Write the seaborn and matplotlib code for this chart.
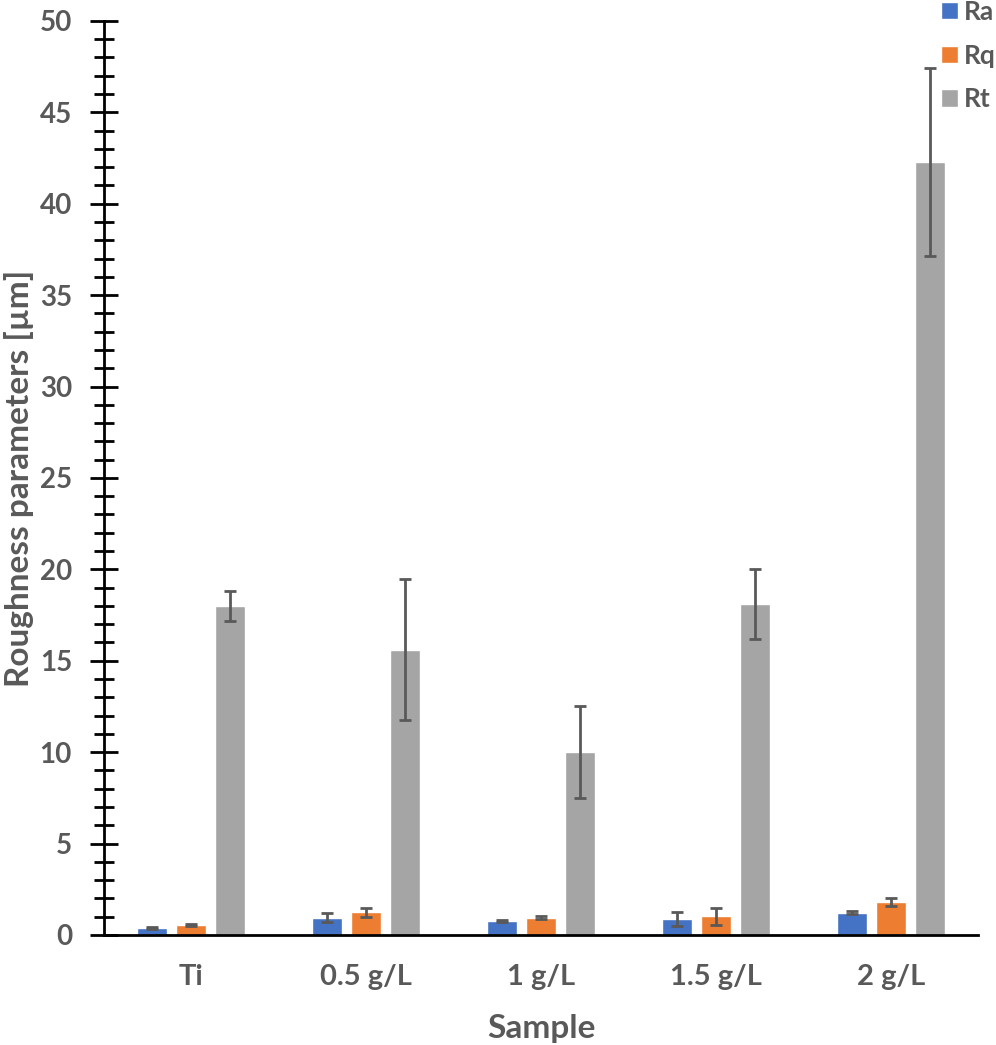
import matplotlib
matplotlib.use("Agg")
import matplotlib.pyplot as plt
from matplotlib.ticker import MultipleLocator
import seaborn as sns
import pandas as pd
import numpy as np

# data
samples = ["Ti", "0.5 g/L", "1 g/L", "1.5 g/L", "2 g/L"]
params = ["Ra", "Rq", "Rt"]
ra = [0.40, 0.95, 0.75, 0.87, 1.22]
rq = [0.55, 1.24, 0.95, 1.02, 1.79]
rt = [18.0, 15.6, 10.0, 18.1, 42.3]
ra_err = [0.05, 0.23, 0.05, 0.39, 0.07]
rq_err = [0.07, 0.24, 0.10, 0.45, 0.22]
rt_err = [0.8, 3.85, 2.5, 1.9, 5.15]

colors = ["#4472C4", "#ED7D31", "#A5A5A5"]
text_col = "#595959"

df = pd.DataFrame({
    "Sample": samples * 3,
    "param": ["Ra"] * 5 + ["Rq"] * 5 + ["Rt"] * 5,
    "value": ra + rq + rt,
})
errs = ra_err + rq_err + rt_err

sns.set_style("white")
plt.rcParams["font.family"] = ["Lato", "DejaVu Sans"]

fig = plt.figure(figsize=(9.96, 10.45), dpi=100)
ax = fig.add_axes([0.1044, 0.1053, 0.8776, 0.8747])

sns.barplot(data=df, x="Sample", y="value", hue="param", hue_order=params,
            palette=colors, errorbar=None, width=0.67, gap=0.23,
            saturation=1, ax=ax, legend=True)

# error bars on the bar centres
bars = ax.patches[:15]
xs = [b.get_x() + b.get_width() / 2 for b in bars]
hs = [b.get_height() for b in bars]
ax.errorbar(xs, hs, yerr=errs, fmt="none", ecolor="#595959",
            elinewidth=2, capsize=4.5, capthick=2, zorder=5)

ax.set_xlim(-0.5, 4.5)
ax.set_ylim(0, 50)
ax.yaxis.set_major_locator(MultipleLocator(5))
ax.yaxis.set_minor_locator(MultipleLocator(1))
ax.tick_params(axis="y", which="major", direction="inout", length=20,
               width=2, color="black", labelsize=20, labelcolor=text_col,
               pad=13, left=True)
ax.tick_params(axis="y", which="minor", direction="inout", length=15,
               width=2, color="black", left=True)
ax.tick_params(axis="x", length=0, labelsize=21, labelcolor=text_col, pad=21)
for lab in ax.get_xticklabels() + ax.get_yticklabels():
    lab.set_fontweight("bold")

for s in ["top", "right"]:
    ax.spines[s].set_visible(False)
for s in ["left", "bottom"]:
    ax.spines[s].set_color("black")
    ax.spines[s].set_linewidth(2)

ax.set_xlabel("Sample", fontsize=24, fontweight="bold", color=text_col, labelpad=17)
ax.set_ylabel("Roughness parameters [µm]", fontsize=24, fontweight="bold",
              color=text_col)
ax.yaxis.set_label_coords(-0.08, 0.5)

leg = ax.legend(loc="upper right", bbox_to_anchor=(1.0, 1.0),
                bbox_transform=fig.transFigure, frameon=False,
                fontsize=19, labelspacing=0.74, handlelength=0.64,
                handleheight=0.64, handletextpad=0.23, borderaxespad=0,
                borderpad=0)
for t in leg.get_texts():
    t.set_color(text_col)
    t.set_fontweight("bold")

fig.savefig("out.png", dpi=100)
